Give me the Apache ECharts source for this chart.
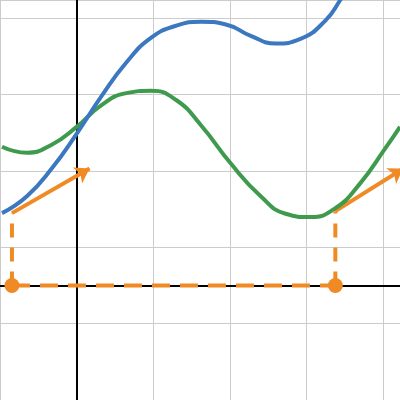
<!DOCTYPE html>
<html><head><meta charset="utf-8">
<script src="https://cdn.jsdelivr.net/npm/echarts@6/dist/echarts.min.js"></script>
<style>html,body{margin:0;padding:0;background:#fff}#c{width:400px;height:400px}</style>
</head><body><div id="c"></div>
<script>
const blueX=[-0.974,-0.649,-0.325,0,0.325,0.649,0.974,1.299,1.623,1.948,2.273,2.597,2.922,3.247,3.442,3.57];
const blueY=[0.948,1.169,1.532,1.987,2.481,2.922,3.247,3.403,3.455,3.42,3.27,3.17,3.23,3.47,3.74,3.95];
const greenX=[-0.974,-0.649,-0.325,0,0.325,0.649,0.974,1.299,1.623,2.013,2.403,2.727,3.052,3.377,3.701,4.026,4.221];
const greenY=[1.818,1.74,1.844,2.078,2.364,2.52,2.55,2.43,2.1,1.597,1.169,0.94,0.896,1.013,1.338,1.792,2.078];
const pointX=[-0.844,3.377];
const pointY=[0,0];
const vecEndX=[0.169,4.26];
const vecEndY=[1.532,1.53];
const curveStartY=[0.948,0.974];
const zip=(a,b)=>a.map((v,i)=>[v,b[i]]);
const orange='#f08a24';
const series=[
 {type:'line',data:zip(greenX,greenY),smooth:0.5,symbol:'none',lineStyle:{color:'#3e9a4c',width:4}},
 {type:'line',data:zip(blueX,blueY),smooth:0.5,symbol:'none',lineStyle:{color:'#3c78c0',width:4}},
 {type:'line',data:zip(pointX,pointY),symbol:'circle',symbolSize:15,itemStyle:{color:orange},lineStyle:{color:orange,width:4,type:[18,10]}},
];
pointX.forEach((x,i)=>{
 series.push({type:'line',data:[[x,0],[x,curveStartY[i]]],symbol:'none',lineStyle:{color:orange,width:4,type:[14,10]}});
});
series.push({type:'lines',coordinateSystem:'cartesian2d',symbol:['none','arrow'],symbolSize:14,
 lineStyle:{color:orange,width:4,opacity:1},
 data:pointX.map((x,i)=>({coords:[[x,curveStartY[i]],[vecEndX[i],vecEndY[i]]]}))});
const ch=echarts.init(document.getElementById('c'));
ch.setOption({animation:false,
 grid:{left:-2,right:0,top:0,bottom:-3.5},
 xAxis:{type:'value',min:-1,max:4.221,interval:1,axisLabel:{show:false},axisTick:{show:false},
  axisLine:{onZero:true,lineStyle:{color:'#000',width:2}},splitLine:{lineStyle:{color:'#ccc',width:1}}},
 yAxis:{type:'value',min:-1.5,max:3.74,interval:1,axisLabel:{show:false},axisTick:{show:false},
  axisLine:{onZero:true,lineStyle:{color:'#000',width:2}},splitLine:{lineStyle:{color:'#ccc',width:1}}},
 series});
</script></body></html>
